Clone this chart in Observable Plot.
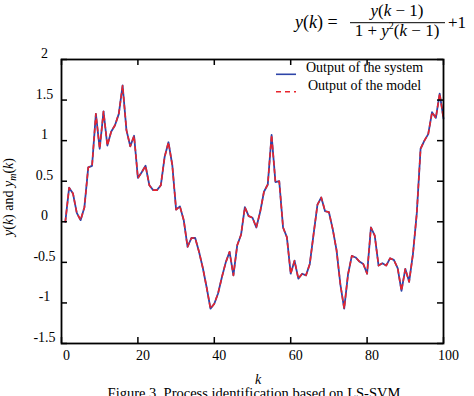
<!DOCTYPE html>
<html>
<head>
<meta charset="utf-8">
<script src="https://cdn.jsdelivr.net/npm/d3@7"></script>
<script src="https://cdn.jsdelivr.net/npm/@observablehq/plot@0.6"></script>
<style>
  html, body { margin: 0; padding: 0; background: #fff; }
  #wrap { position: relative; width: 474px; height: 396px; overflow: hidden; font-family: 'Liberation Serif', serif; }
  #chart { position: absolute; left: 0; top: 40px; }
  #overlay { position: absolute; left: 0; top: 0; font-family: 'Liberation Serif', serif; }
  #chart svg, #chart svg text { font-family: 'Liberation Serif', serif !important; }
</style>
</head>
<body>
<div id="wrap">
  <div id="chart"></div>
  <svg id="overlay" width="474" height="396" fill="black">
    <!-- formula -->
    <text x="295" y="28" font-size="18"><tspan font-style="italic">y</tspan>(<tspan font-style="italic">k</tspan>) =</text>
    <text x="397" y="16" font-size="17" text-anchor="middle"><tspan font-style="italic">y</tspan>(<tspan font-style="italic">k</tspan> − 1)</text>
    <line x1="350" x2="445" y1="22.7" y2="22.7" stroke="black" stroke-width="1"/>
    <text x="397" y="36" font-size="17" text-anchor="middle">1 + <tspan font-style="italic">y</tspan><tspan font-size="10" dy="-7">2</tspan><tspan dy="7">(</tspan><tspan font-style="italic">k</tspan> − 1)</text>
    <text x="448" y="28" font-size="17">+1</text>
    <!-- legend -->
    <line x1="276" x2="296" y1="74.3" y2="74.3" stroke="#2e45a8" stroke-width="1.6"/>
    <text x="306" y="72" font-size="14">Output of the system</text>
    <line x1="276" x2="296" y1="91.7" y2="91.7" stroke="#e8242c" stroke-width="1.6" stroke-dasharray="5,4"/>
    <text x="308" y="90" font-size="14">Output of the model</text>
    <!-- y label -->
    <text transform="translate(13,197) rotate(-90)" font-size="14" text-anchor="middle"><tspan font-style="italic">y</tspan>(<tspan font-style="italic">k</tspan>) and <tspan font-style="italic">y</tspan><tspan font-style="italic" font-size="10" dy="3">m</tspan><tspan dy="-3">(</tspan><tspan font-style="italic">k</tspan>)</text>
    <!-- x label -->
    <text x="258" y="384" font-size="14" font-style="italic" text-anchor="middle">k</text>
    <!-- caption -->
    <text x="254" y="398" font-size="14.5" text-anchor="middle">Figure 3. Process identification based on LS-SVM</text>
  </svg>
</div>
<script>
// ---- data ----
const steps = d3.range(1, 101); // k = 1..100
const systemOutput = [
  0.00, 0.42, 0.35, 0.11, 0.02, 0.18, 0.67, 0.69, 1.33, 0.90,
  1.36, 0.94, 1.11, 1.19, 1.33, 1.68, 1.13, 0.93, 1.06, 0.54,
  0.61, 0.69, 0.45, 0.39, 0.39, 0.45, 0.80, 0.98, 0.70, 0.15,
  0.19, 0.02, -0.31, -0.20, -0.20, -0.37, -0.57, -0.81, -1.07, -1.01,
  -0.88, -0.68, -0.50, -0.37, -0.66, -0.29, -0.16, 0.18, 0.07, 0.05,
  -0.07, 0.12, 0.37, 0.46, 1.07, 0.49, 0.50, -0.07, -0.19, -0.64,
  -0.48, -0.70, -0.64, -0.66, -0.52, -0.15, 0.21, 0.30, 0.13, 0.12,
  -0.09, -0.35, -0.77, -1.07, -0.65, -0.42, -0.44, -0.49, -0.52, -0.64,
  -0.07, -0.17, -0.54, -0.51, -0.54, -0.45, -0.47, -0.57, -0.85, -0.58,
  -0.74, -0.40, 0.10, 0.90, 1.00, 1.08, 1.35, 1.28, 1.58, 1.27
];
// the model output coincides with the system output in the picture
const modelOutput = [...systemOutput];
const xTicks = [0, 20, 40, 60, 80, 100];
const yTicks = [-1.5, -1, -0.5, 0, 0.5, 1, 1.5, 2];

const sysData = steps.map((k, i) => ({k, y: systemOutput[i]}));
const modData = steps.map((k, i) => ({k, y: modelOutput[i]}));

const W = 474, H = 345, mT = 19, mB = 42, mL = 61, mR = 31;
const fw = W - mL - mR, fh = H - mT - mB, tl = 6;

const chart = Plot.plot({
  width: W, height: H,
  marginTop: mT, marginBottom: mB, marginLeft: mL, marginRight: mR,
  x: {domain: [0, 100]},
  y: {domain: [-1.5, 2]},
  style: {fontFamily: "'Liberation Serif', serif", fontSize: "14px", color: "black", background: "transparent", overflow: "visible"},
  marks: [
    Plot.line(sysData, {x: "k", y: "y", stroke: "#2e45a8", strokeWidth: 1.8}),
    Plot.line(modData, {x: "k", y: "y", stroke: "#e8242c", strokeWidth: 1.6, strokeDasharray: "4,4"}),
    Plot.tickX(xTicks, {x: d => d, insetTop: fh - tl, stroke: "black", strokeWidth: 1.5}),
    Plot.tickX(xTicks, {x: d => d, insetBottom: fh - tl, stroke: "black", strokeWidth: 1.5}),
    Plot.tickY(yTicks, {y: d => d, insetRight: fw - tl, stroke: "black", strokeWidth: 1.5}),
    Plot.tickY(yTicks, {y: d => d, insetLeft: fw - tl, stroke: "black", strokeWidth: 1.5}),
    Plot.frame({stroke: "black", strokeWidth: 1.8}),
    Plot.axisX({ticks: xTicks, tickSize: 0, tickPadding: 7, dx: 5, tickFormat: d => String(d), label: null, fontSize: 14}),
    Plot.axisY({ticks: yTicks, tickSize: 0, tickPadding: 17, textAnchor: "middle", dy: -6, tickFormat: d => String(d), label: null, fontSize: 14})
  ]
});
document.getElementById("chart").appendChild(chart);
</script>
</body>
</html>
